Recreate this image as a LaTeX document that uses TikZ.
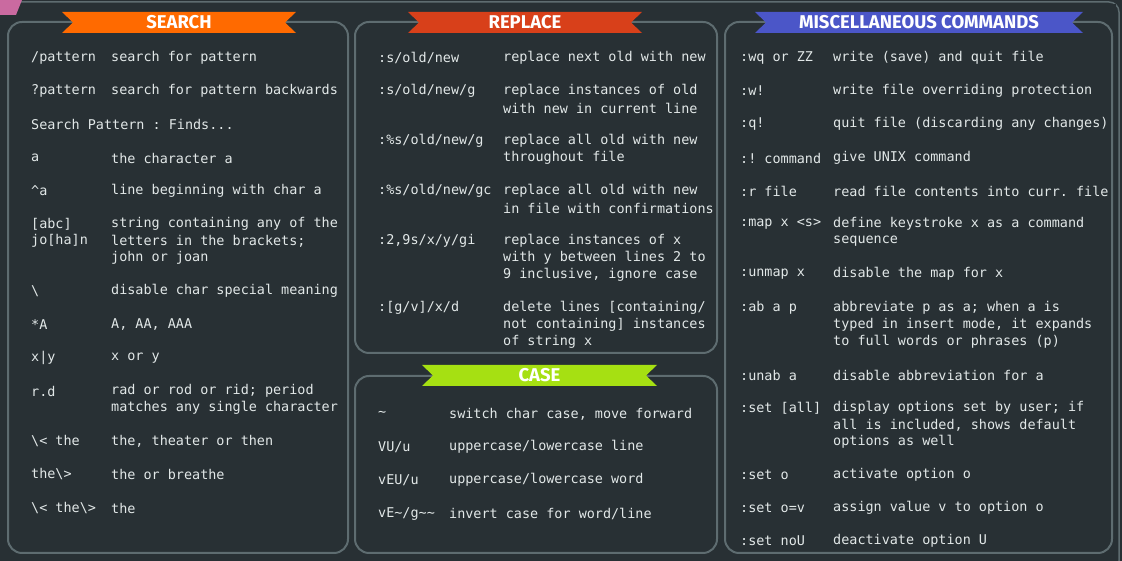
\documentclass[tikz,border=0pt]{standalone}
\usepackage{fontspec}
\setmonofont{DejaVu Sans Mono}
\newfontfamily\banfont{Fira Sans}
\definecolor{bg}{HTML}{283034}
\definecolor{frame}{HTML}{5E6C70}
\definecolor{txt}{HTML}{E2E8E8}
\definecolor{cor}{HTML}{FF6A00}
\definecolor{cred}{HTML}{D8401A}
\definecolor{cgr}{HTML}{A6E012}
\definecolor{cbl}{HTML}{4B56C8}
\tikzset{
 panel/.style={draw=frame,line width=2pt,rounded corners=14pt},
 ln/.style={anchor=west,inner sep=0pt,text=txt,font=\ttfamily\fontsize{13.45}{16}\selectfont},
 bantext/.style={text=white,font=\banfont\bfseries\fontsize{18.5}{20}\selectfont,inner sep=0pt}
}
\newcommand\R[4]{\node[ln] (#1) at (#2,561-#3) {#4};}
\newcommand\Ban[6]{% name x0 x1 ytop color text
 \fill[#5] (#2,561-#4) -- (#3,561-#4) -- (#3-11,561-#4-10.5) -- (#3,561-#4-21) -- (#2,561-#4-21) -- (#2+11,561-#4-10.5) -- cycle;
 \node[bantext] (#1) at ({(#2+#3)/2},561-#4-10.5) {#6};}
\begin{document}
\begin{tikzpicture}[x=1pt,y=1pt]
\useasboundingbox (0,0) rectangle (1122,561);
\fill[bg] (0,0) rectangle (1122,561);
\draw[frame,line width=1.5pt,rounded corners=10pt] (-10,-10) rectangle (1119,559);
\fill[bg] (0,0) rectangle (1116,557);
\fill[magenta!40!violet!70] (0,561) -- (22,561) -- (16,546) -- (0,546) -- cycle;
\draw[panel] (8,8) rectangle (348,539);
\draw[panel] (355,208) rectangle (717,539);
\draw[panel] (355,8) rectangle (717,185);
\draw[panel] (725,8) rectangle (1112,539);
\Ban{bs}{62}{296}{12}{cor}{SEARCH}
\Ban{br}{408}{642}{12}{cred}{REPLACE}
\Ban{bc}{422}{657}{365}{cgr}{CASE}
\Ban{bm}{755}{1083}{12}{cbl}{MISCELLANEOUS COMMANDS}
% search
\R{s1}{31}{58}{/pattern}\R{s1b}{111}{58}{search for pattern}
\R{s2}{31}{91}{?pattern}\R{s2b}{111}{91}{search for pattern backwards}
\R{s3}{31}{124}{Search Pattern : Finds...}
\R{s4}{31}{158}{a}\R{s4b}{111}{158}{the character a}
\R{s5}{31}{191}{\textasciicircum a}\R{s5b}{111}{191}{line beginning with char a}
\R{s6}{31}{224}{[abc]}\R{s6b}{111}{224}{string containing any of the}
\R{s6c}{31}{241}{jo[ha]n}\R{s6d}{111}{241}{letters in the brackets;}
\R{s6e}{111}{258}{john or joan}
\R{s7}{31}{291}{\textbackslash}\R{s7b}{111}{291}{disable char special meaning}
\R{s8}{31}{325}{*A}\R{s8b}{111}{325}{A, AA, AAA}
\R{s9}{31}{358}{x|y}\R{s9b}{111}{358}{x or y}
\R{s10}{31}{391}{r.d}\R{s10b}{111}{391}{rad or rod or rid; period}
\R{s10c}{111}{408}{matches any single character}
\R{s11}{31}{441}{\textbackslash< the}\R{s11b}{111}{441}{the, theater or then}
\R{s12}{31}{474}{the\textbackslash>}\R{s12b}{111}{474}{the or breathe}
\R{s13}{31}{508}{\textbackslash< the\textbackslash>}\R{s13b}{111}{508}{the}
% replace
\R{r1}{378}{58}{:s/old/new}\R{r1b}{503}{58}{replace next old with new}
\R{r2}{378}{91}{:s/old/new/g}\R{r2b}{503}{91}{replace instances of old}
\R{r2c}{503}{108}{with new in current line}
\R{r3}{378}{141}{:\%s/old/new/g}\R{r3b}{503}{141}{replace all old with new}
\R{r3c}{503}{158}{throughout file}
\R{r4}{378}{191}{:\%s/old/new/gc}\R{r4b}{503}{191}{replace all old with new}
\R{r4c}{503}{208}{in file with confirmations}
\R{r5}{378}{241}{:2,9s/x/y/gi}\R{r5b}{503}{241}{replace instances of x}
\R{r5c}{503}{258}{with y between lines 2 to}
\R{r5d}{503}{275}{9 inclusive, ignore case}
\R{r6}{378}{308}{:[g/v]/x/d}\R{r6b}{503}{308}{delete lines [containing/}
\R{r6c}{503}{325}{not containing] instances}
\R{r6d}{503}{342}{of string x}
% case
\R{c1}{378}{414}{\textasciitilde}\R{c1b}{449}{414}{switch char case, move forward}
\R{c2}{378}{447}{VU/u}\R{c2b}{449}{447}{uppercase/lowercase line}
\R{c3}{378}{480}{vEU/u}\R{c3b}{449}{480}{uppercase/lowercase word}
\R{c4}{378}{514}{vE\textasciitilde/g\textasciitilde\textasciitilde}\R{c4b}{449}{514}{invert case for word/line}
% misc
\R{m1}{740}{58}{:wq or ZZ}\R{m1b}{833}{58}{write (save) and quit file}
\R{m2}{740}{91}{:w!}\R{m2b}{833}{91}{write file overriding protection}
\R{m3}{740}{124}{:q!}\R{m3b}{833}{124}{quit file (discarding any changes)}
\R{m4}{740}{158}{:! command}\R{m4b}{833}{158}{give UNIX command}
\R{m5}{740}{191}{:r file}\R{m5b}{833}{191}{read file contents into curr. file}
\R{m6}{740}{224}{:map x <s>}\R{m6b}{833}{224}{define keystroke x as a command}
\R{m6c}{833}{241}{sequence}
\R{m7}{740}{274}{:unmap x}\R{m7b}{833}{274}{disable the map for x}
\R{m8}{740}{308}{:ab a p}\R{m8b}{833}{308}{abbreviate p as a; when a is}
\R{m8c}{833}{325}{typed in insert mode, it expands}
\R{m8d}{833}{342}{to full words or phrases (p)}
\R{m9}{740}{375}{:unab a}\R{m9b}{833}{375}{disable abbreviation for a}
\R{m10}{740}{408}{:set [all]}\R{m10b}{833}{408}{display options set by user; if}
\R{m10c}{833}{425}{all is included, shows default}
\R{m10d}{833}{442}{options as well}
\R{m11}{740}{475}{:set o}\R{m11b}{833}{475}{activate option o}
\R{m12}{740}{508}{:set o=v}\R{m12b}{833}{508}{assign value v to option o}
\R{m13}{740}{541}{:set noU}\R{m13b}{833}{541}{deactivate option U}
\end{tikzpicture}
\end{document}
